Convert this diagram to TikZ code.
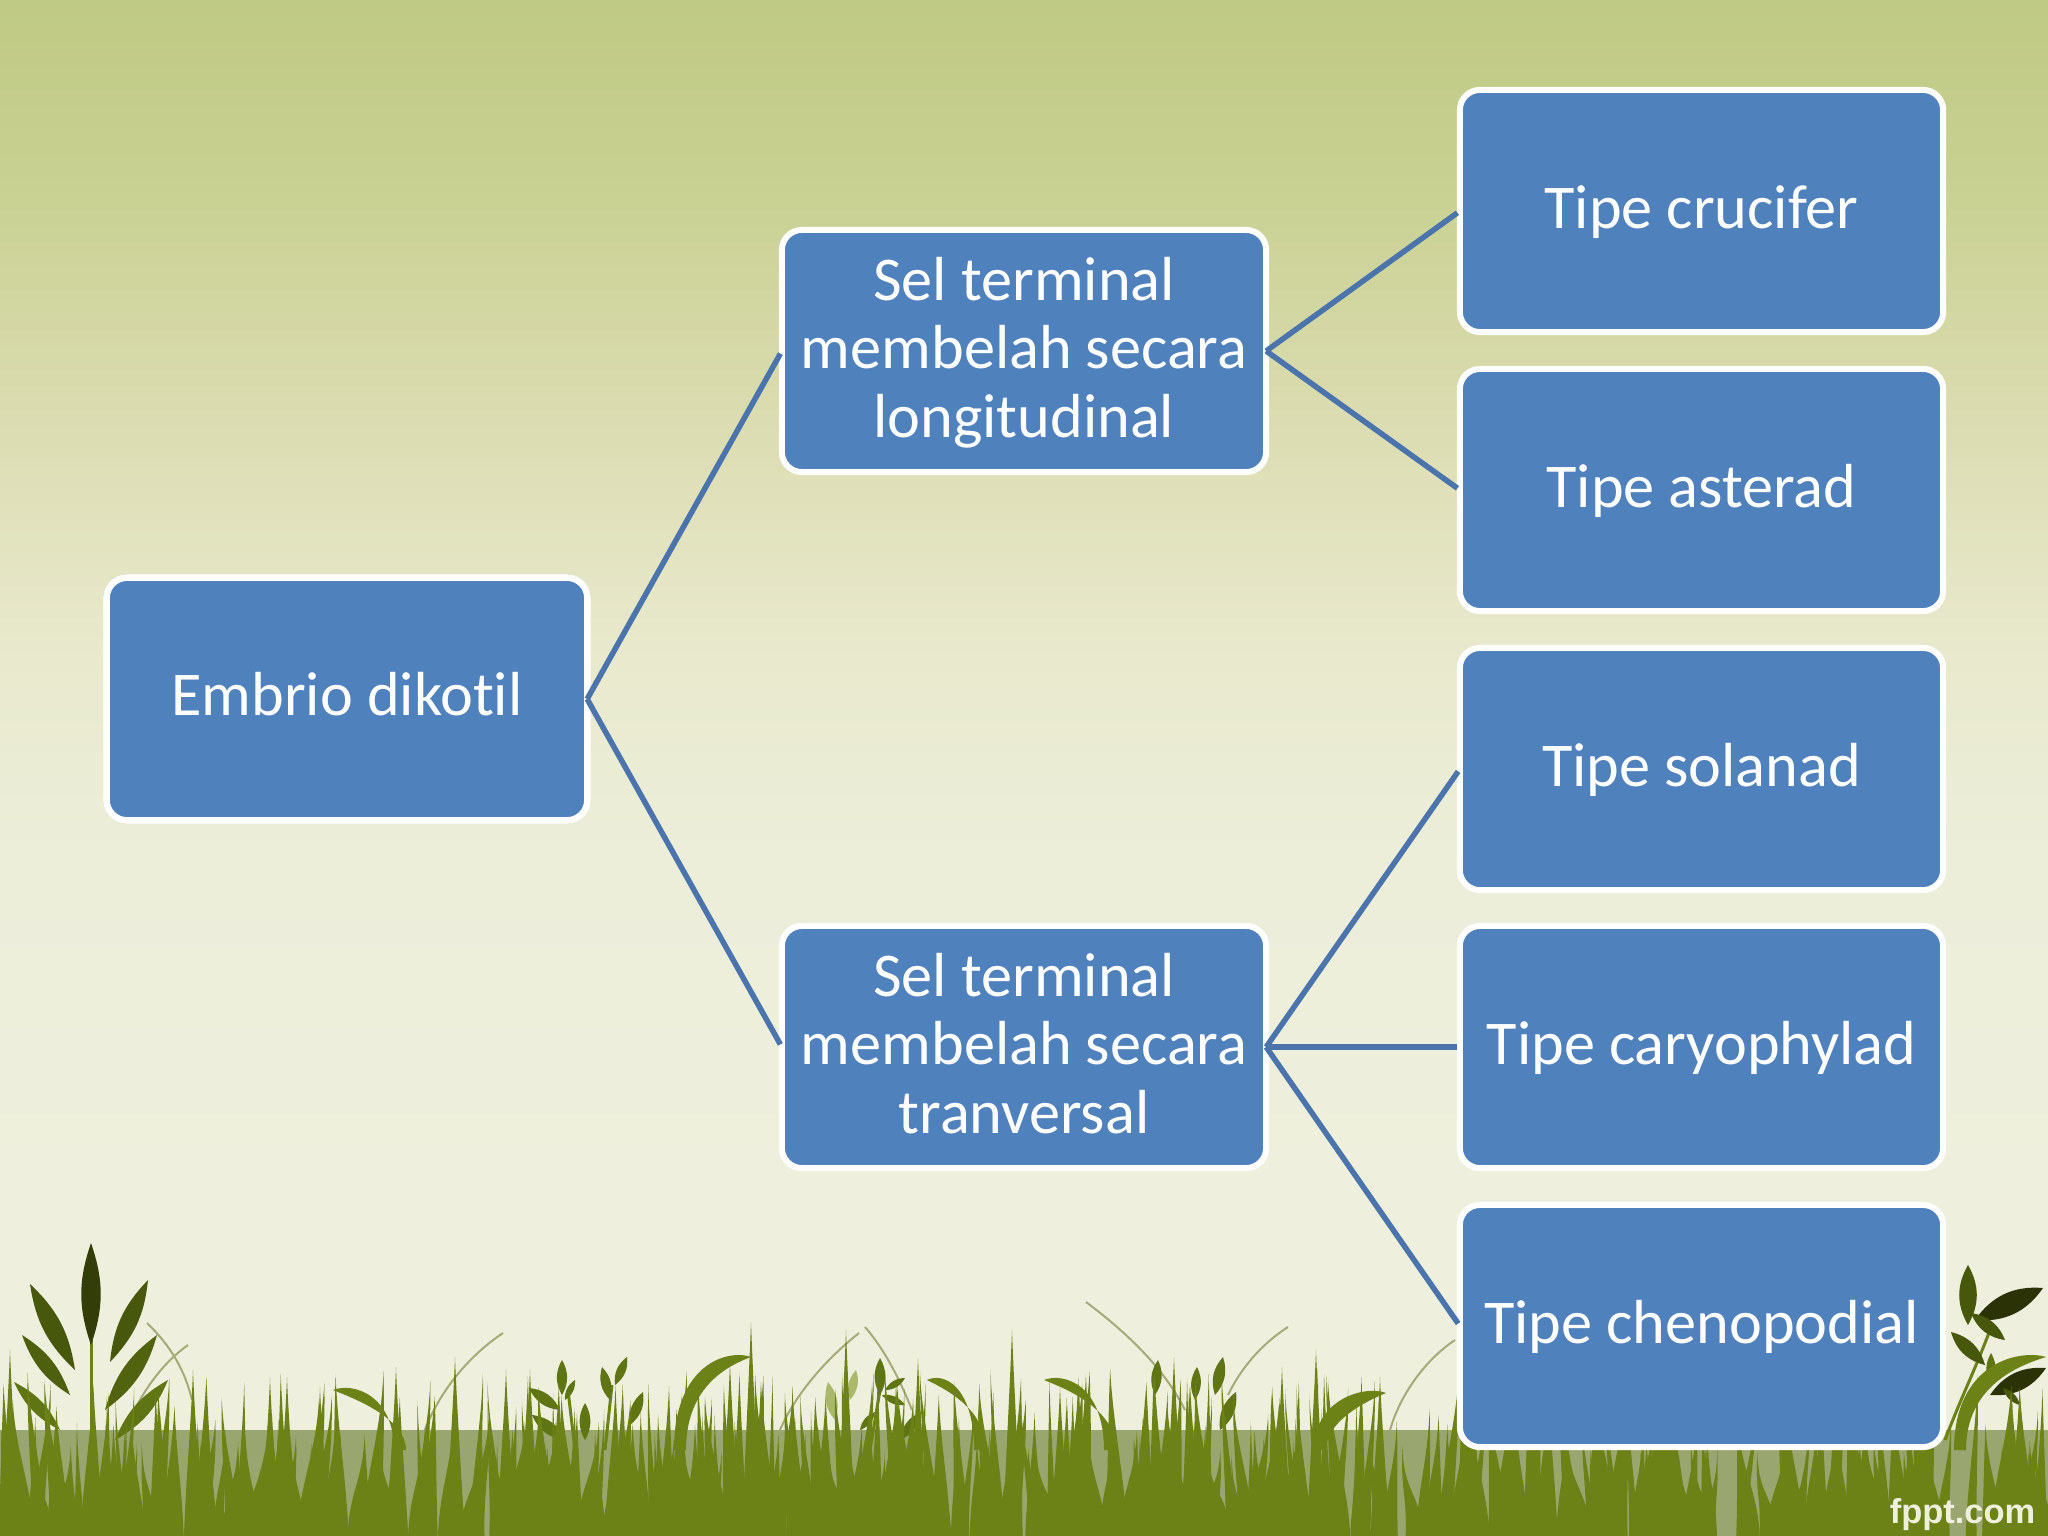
\documentclass[tikz,border=0pt]{standalone}
\usepackage{fontspec}
\setmainfont[Ligatures=NoCommon]{Carlito}
\newfontfamily\markfont{Liberation Sans}
\usetikzlibrary{positioning}
\definecolor{boxblue}{HTML}{4F81BD}
\definecolor{linkblue}{HTML}{4A74AB}
\definecolor{grassgreen}{HTML}{6C8116}
\definecolor{groundgreen}{HTML}{9AA66F}
\definecolor{leafgreen}{HTML}{5F7412}
\definecolor{leafdark}{HTML}{47570C}
\definecolor{leafblack}{HTML}{2A3206}
\definecolor{leafpale}{HTML}{A9B86A}
\definecolor{stalkgrey}{HTML}{A5AB78}
\definecolor{markcream}{HTML}{EEF0DC}
\definecolor{bgA}{HTML}{EEF0DD}
\definecolor{bgB}{HTML}{ECEEDA}
\definecolor{bgC}{HTML}{E8E9CC}
\definecolor{bgD}{HTML}{DDDDB4}
\definecolor{bgE}{HTML}{C9D193}
\definecolor{bgF}{HTML}{BFCA84}
\pgfdeclareverticalshading{slidebg}{100bp}{
 color(0bp)=(bgA);
 color(36bp)=(bgA);
 color(47bp)=(bgB);
 color(54bp)=(bgC);
 color(60.7bp)=(bgD);
 color(68.5bp)=(bgE);
 color(75bp)=(bgF);
 color(100bp)=(bgF)}
\tikzset{
 tbox/.style={draw=white,line width=0.06cm,fill=boxblue,rounded corners=0.2cm,outer sep=0pt,
  text=white,align=center,font=\fontsize{17.7}{19.5}\selectfont,minimum height=2.42cm},
 rootbox/.style={tbox,minimum width=4.80cm},
 midbox/.style={tbox,minimum width=4.84cm},
 tipebox/.style={tbox,minimum width=4.83cm,text height=2.6ex,text depth=0.5ex},
 link/.style={draw=linkblue,line width=0.055cm,shorten >=0.03cm},
 stalk/.style={draw=stalkgrey,line width=0.02cm},
 stem/.style={draw=grassgreen,line width=0.03cm}
}
\newcommand{\topfix}{\rule{0pt}{13.2pt}}
\newcommand{\blade}[4]{\fill[grassgreen] (#1-#4,1536) .. controls (#1-#4*0.85,1490) and (#2-#4*0.2,#3+50) .. (#2,#3) .. controls (#2+#4*0.2,#3+50) and (#1+#4*0.85,1490) .. (#1+#4,1536) -- cycle;}
\newcommand{\leafshape}[5]{\fill[#5] (#1,#2) to[bend left=19] (#3,#4) to[bend left=19] (#1,#2) -- cycle;}
\newcommand{\sprigleaf}[5]{\fill[#5] (#1,#2) to[bend left=30] (#3,#4) to[bend left=30] (#1,#2) -- cycle;}
\newcommand{\curlblade}[4]{\fill[grassgreen] (#1-6,#2) .. controls (#1-6,#4+5) and (#3+0.3*#1-0.3*#3,#4-8) .. (#3,#4) .. controls (#3+0.3*#1-0.3*#3,#4+8) and (#1+6,#4+28) .. (#1+6,#2) -- cycle;}
\begin{document}
\begin{tikzpicture}[x=0.01cm,y=-0.01cm]
 \useasboundingbox (0,0) rectangle (2048,1536);
 \shade[shading=slidebg] (0,0) rectangle (2048,1536);
 \fill[groundgreen] (0,1430) rectangle (2048,1536);
 \draw[stalk] (147,1323) .. controls (170,1345) and (185,1370) .. (192,1400);
 \draw[stalk] (188,1345) .. controls (160,1365) and (140,1395) .. (125,1430);
 \draw[stalk] (503,1333) .. controls (470,1355) and (440,1390) .. (425,1430);
 \draw[stalk] (865,1327) .. controls (885,1350) and (900,1380) .. (912,1410);
 \draw[stalk] (859,1333) .. controls (825,1360) and (795,1395) .. (780,1430);
 \draw[stalk] (1086,1302) .. controls (1130,1335) and (1165,1370) .. (1185,1410);
 \draw[stalk] (1288,1327) .. controls (1260,1345) and (1240,1370) .. (1228,1395);
 \draw[stalk] (1455,1340) .. controls (1425,1360) and (1400,1395) .. (1390,1430);
 \draw[stem] (91,1340) -- (91,1460);
 \draw[stem] (568,1390) -- (575,1450);
 \draw[stem] (612,1385) -- (605,1450);
 \draw[stem] (880,1390) -- (870,1450);
 \draw[stem] (1990,1330) .. controls (1975,1370) and (1960,1400) .. (1945,1440);
 \leafshape{91}{1345}{91}{1243}{leafblack!70!leafdark}
 \leafshape{75}{1370}{30}{1284}{leafdark}
 \leafshape{110}{1362}{148}{1280}{leafdark}
 \leafshape{70}{1395}{22}{1335}{leafdark!70!leafgreen}
 \leafshape{105}{1410}{157}{1335}{leafdark!60!leafgreen}
 \leafshape{115}{1440}{168}{1380}{leafgreen}
 \leafshape{60}{1430}{14}{1382}{leafgreen}
 \sprigleaf{562}{1395}{562}{1360}{leafgreen}
 \sprigleaf{615}{1385}{627}{1357}{leafgreen}
 \sprigleaf{610}{1400}{602}{1367}{leafgreen}
 \sprigleaf{565}{1400}{575}{1380}{leafgreen}
 \sprigleaf{560}{1410}{529}{1388}{leafgreen}
 \sprigleaf{630}{1425}{643}{1392}{leafgreen}
 \sprigleaf{585}{1440}{585}{1403}{leafgreen}
 \sprigleaf{565}{1440}{532}{1415}{leafgreen}
 \sprigleaf{880}{1395}{880}{1358}{leafgreen}
 \sprigleaf{850}{1400}{856}{1370}{leafpale}
 \sprigleaf{835}{1420}{828}{1382}{leafpale}
 \sprigleaf{885}{1390}{905}{1378}{leafgreen}
 \sprigleaf{905}{1405}{882}{1395}{leafgreen}
 \sprigleaf{860}{1430}{875}{1412}{leafgreen}
 \sprigleaf{900}{1440}{921}{1412}{leafgreen}
 \sprigleaf{1155}{1395}{1158}{1360}{leafgreen}
 \sprigleaf{1195}{1400}{1197}{1367}{leafgreen}
 \sprigleaf{1215}{1395}{1223}{1357}{leafgreen}
 \sprigleaf{1220}{1430}{1236}{1392}{leafgreen}
 \sprigleaf{1968}{1325}{1968}{1265}{leafdark}
 \sprigleaf{1975}{1320}{2043}{1288}{leafblack}
 \sprigleaf{2005}{1340}{1971}{1313}{leafdark}
 \sprigleaf{1985}{1365}{1951}{1332}{leafdark}
 \sprigleaf{1991}{1385}{1991}{1353}{leafgreen}
 \sprigleaf{1990}{1395}{2046}{1368}{leafblack}
 \sprigleaf{2020}{1405}{2003}{1388}{leafdark}
 \curlblade{400}{1450}{333}{1390}
 \curlblade{680}{1450}{751}{1357}
 \curlblade{980}{1450}{927}{1380}
 \curlblade{1110}{1450}{1044}{1380}
 \curlblade{1320}{1450}{1386}{1393}
 \curlblade{1960}{1450}{2046}{1357}
 \pgfmathsetseed{7}
 \foreach \i in {1,...,400}{
  \pgfmathsetmacro\gx{rnd*2048}
  \pgfmathsetmacro\gy{1368+rnd*85}
  \pgfmathsetmacro\gl{\gx-15+rnd*30}
  \pgfmathsetmacro\gw{4+rnd*8}
  \blade{\gx}{\gl}{\gy}{\gw}
 }
 \foreach \gx/\gy in {10/1350,193/1370,270/1378,287/1377,320/1387,396/1367,455/1357,506/1370,530/1370,730/1363,751/1322,846/1330,918/1358,1012/1330,1060/1387,1174/1357,1282/1367,1316/1350,1380/1377}
  \blade{\gx}{\gx}{\gy}{9}
 \node[rootbox] (embrio) at (347,699) {Embrio dikotil\vphantom{g}};
 \node[midbox] (selA) at (1024,351) {\topfix Sel terminal\\membelah secara\\longitudinal};
 \node[midbox] (selB) at (1024,1047) {\topfix Sel terminal\\membelah secara\\tranversal\vphantom{g}};
 \node[tipebox] (crucifer) at (1701.5,211) {Tipe crucifer};
 \node[tipebox] (asterad) at (1701.5,490) {Tipe asterad};
 \node[tipebox] (solanad) at (1701.5,769) {Tipe solanad};
 \node[tipebox] (caryophylad) at (1701.5,1047) {Tipe caryophylad};
 \node[tipebox] (chenopodial) at (1701.5,1326) {Tipe chenopodial};
 \draw[link] (embrio.east) -- (selA.west);
 \draw[link] (embrio.east) -- (selB.west);
 \draw[link] (selA.east) -- (crucifer.west);
 \draw[link] (selA.east) -- (asterad.west);
 \draw[link] (selB.east) -- (solanad.west);
 \draw[link] (selB.east) -- (caryophylad.west);
 \draw[link] (selB.east) -- (chenopodial.west);
 \node[text=markcream,inner sep=0pt,font=\markfont\bfseries\fontsize{9.8}{11}\selectfont,anchor=base east] (fppt) at (2036,1523) {fppt.com};
\end{tikzpicture}
\end{document}
